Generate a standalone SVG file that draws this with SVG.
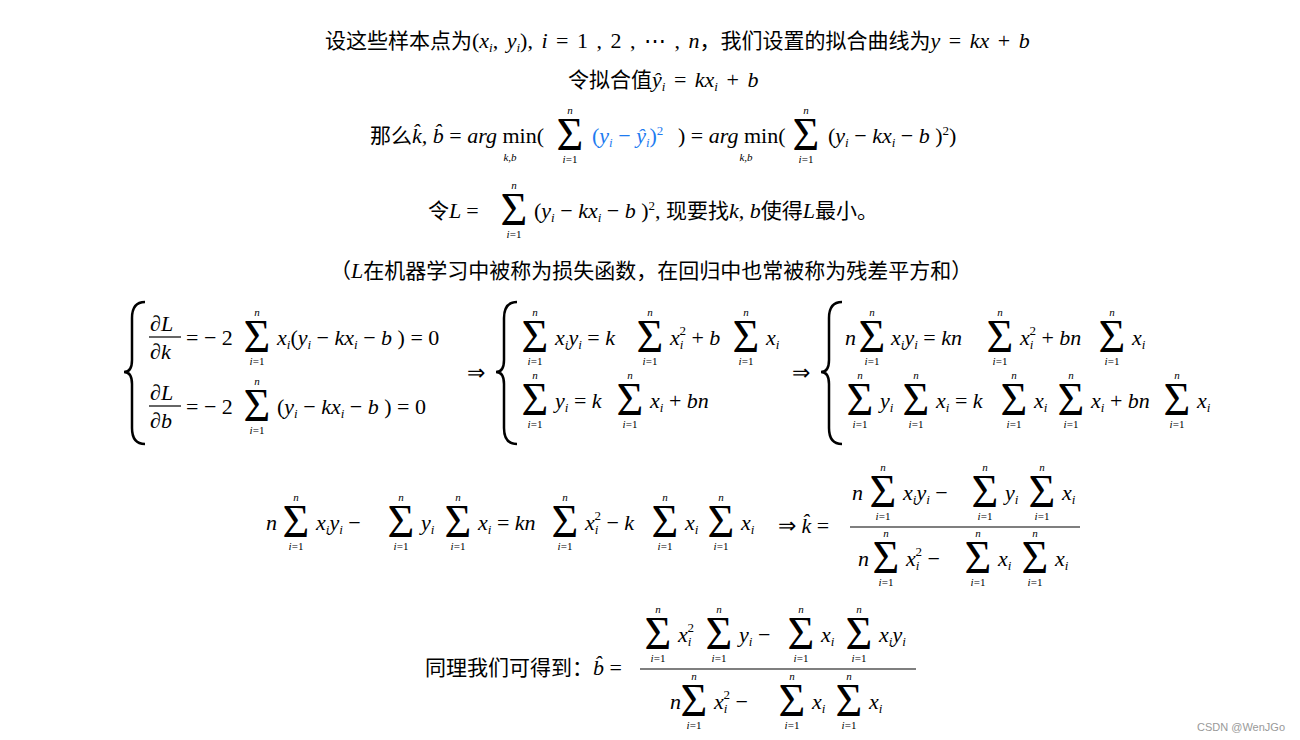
<svg xmlns="http://www.w3.org/2000/svg" width="1300" height="740" viewBox="0 0 1300 740">
<style>
text{fill:#000}
.m{font-family:"Liberation Serif",serif;font-style:italic;font-size:22px}
.u{font-style:normal}
.c{font-family:"Noto Sans CJK SC",sans-serif;font-size:21px;font-style:normal}
.s{font-size:13px}
.lim{font-family:"Liberation Serif",serif;font-style:italic;font-size:11px;text-anchor:middle}
.sig{font-family:"Liberation Serif",serif;font-size:46px;text-anchor:middle}
.blue{fill:#1e7bf0}
.br{fill:none;stroke:#000;stroke-width:2.5}
.fl{stroke:#000;stroke-width:1.2}
</style>
<defs>
<g id="sum"><text class="sig" y="13">Σ</text><text class="lim" y="-23">n</text><text class="lim" y="26">i<tspan class="u">=1</tspan></text></g>
</defs>
<rect width="1300" height="740" fill="#fff"/>

<g id="line1">
<text x="325" y="48" class="m" word-spacing="3"><tspan class="c">设这些样本点为</tspan><tspan class="u">(</tspan>x<tspan class="s" dy="4">i</tspan><tspan dy="-4" class="u">, </tspan>y<tspan class="s" dy="4">i</tspan><tspan dy="-4" class="u">), </tspan> i <tspan class="u">= 1 , 2 , ⋯ , </tspan> n<tspan class="c">，我们设置的拟合曲线为</tspan>y <tspan class="u">=</tspan> kx <tspan class="u">+</tspan> b</text>
</g>
<g id="line2">
<text x="568" y="87" class="m" word-spacing="3"><tspan class="c">令拟合值</tspan>ŷ<tspan class="s" dy="4">i</tspan><tspan dy="-4" class="u">  =  </tspan>kx<tspan class="s" dy="4">i</tspan><tspan dy="-4" class="u"> + </tspan>b</text>
</g>
<g id="line3">
<text x="370" y="143" class="m"><tspan class="c">那么</tspan>k̂, b̂ <tspan class="u">=</tspan> arg <tspan class="u">min(</tspan></text>
<text x="510" y="161" class="lim">k,b</text>
<g style="fill:#1e7bf0"><use href="#sum" x="570" y="137"/></g>
<text x="592" y="143" class="m blue"><tspan class="u">(</tspan>y<tspan class="s" dy="4">i</tspan><tspan dy="-4" class="u"> − </tspan>ŷ<tspan class="s" dy="4">i</tspan><tspan dy="-4" class="u">)</tspan><tspan class="s u" dy="-8">2</tspan></text>
<text x="678" y="143" class="m"><tspan class="u">) =</tspan> arg <tspan class="u">min(</tspan></text>
<text x="746" y="161" class="lim">k,b</text>
<use href="#sum" x="806" y="137"/>
<text x="828" y="143" class="m"><tspan class="u">(</tspan>y<tspan class="s" dy="4">i</tspan><tspan dy="-4" class="u"> − </tspan>kx<tspan class="s" dy="4">i</tspan><tspan dy="-4" class="u"> − </tspan>b<tspan class="u"> )</tspan><tspan class="s u" dy="-8">2</tspan><tspan class="u" dy="8">)</tspan></text>
</g>
<g id="line4">
<text x="428" y="218" class="m"><tspan class="c">令</tspan>L <tspan class="u">=</tspan></text>
<use href="#sum" x="514" y="212"/>
<text x="534" y="218" class="m"><tspan class="u">(</tspan>y<tspan class="s" dy="4">i</tspan><tspan dy="-4" class="u"> − </tspan>kx<tspan class="s" dy="4">i</tspan><tspan dy="-4" class="u"> − </tspan>b<tspan class="u"> )</tspan><tspan class="s u" dy="-8">2</tspan><tspan class="u" dy="8">, </tspan><tspan class="c">现要找</tspan>k, b<tspan class="c">使得</tspan>L<tspan class="c">最小。</tspan></text>
</g>
<g id="line5">
<text x="330" y="278" class="m"><tspan class="c">（</tspan>L<tspan class="c">在机器学习中被称为损失函数，在回归中也常被称为残差平方和）</tspan></text>
</g>

<g id="system1">
<path class="br" d="M145 302 Q132 302 132 318 L132 360 Q132 372 124 372 Q132 372 132 384 L132 428 Q132 444 145 444"/>
<text x="150" y="331" class="m u">∂<tspan class="m">L</tspan></text>
<line class="fl" x1="149" y1="337" x2="181" y2="337"/>
<text x="150" y="359" class="m u">∂<tspan class="m">k</tspan></text>
<text x="186" y="345" class="m u">= − 2</text>
<use href="#sum" x="257" y="339"/>
<text x="277" y="345" class="m">x<tspan class="s" dy="4">i</tspan><tspan dy="-4" class="u">(</tspan>y<tspan class="s" dy="4">i</tspan><tspan dy="-4" class="u"> − </tspan>kx<tspan class="s" dy="4">i</tspan><tspan dy="-4" class="u"> − </tspan>b<tspan class="u"> ) = 0</tspan></text>
<text x="150" y="400" class="m u">∂<tspan class="m">L</tspan></text>
<line class="fl" x1="149" y1="406" x2="181" y2="406"/>
<text x="150" y="428" class="m u">∂<tspan class="m">b</tspan></text>
<text x="186" y="414" class="m u">= − 2</text>
<use href="#sum" x="257" y="408"/>
<text x="277" y="414" class="m"><tspan class="u">(</tspan>y<tspan class="s" dy="4">i</tspan><tspan dy="-4" class="u"> − </tspan>kx<tspan class="s" dy="4">i</tspan><tspan dy="-4" class="u"> − </tspan>b<tspan class="u"> ) = 0</tspan></text>
<text x="467" y="380" class="m u">⇒</text>
</g>

<g id="system2">
<path class="br" d="M517 302 Q504 302 504 318 L504 360 Q504 372 496 372 Q504 372 504 384 L504 428 Q504 444 517 444"/>
<use href="#sum" x="535" y="339"/>
<text x="555" y="345" class="m">x<tspan class="s" dy="4">i</tspan><tspan dy="-4">y</tspan><tspan class="s" dy="4">i</tspan><tspan dy="-4" class="u"> = </tspan>k</text>
<use href="#sum" x="650" y="339"/>
<text x="670" y="345" class="m">x<tspan class="s" dy="4">i</tspan><tspan class="s u" dx="-4" dy="-14">2</tspan><tspan dy="10" class="u"> + </tspan>b</text>
<use href="#sum" x="746" y="339"/>
<text x="766" y="345" class="m">x<tspan class="s" dy="4">i</tspan></text>
<use href="#sum" x="535" y="402"/>
<text x="555" y="408" class="m">y<tspan class="s" dy="4">i</tspan><tspan dy="-4" class="u"> = </tspan>k</text>
<use href="#sum" x="630" y="402"/>
<text x="650" y="408" class="m">x<tspan class="s" dy="4">i</tspan><tspan dy="-4" class="u"> + </tspan>bn</text>
<text x="792" y="380" class="m u">⇒</text>
</g>

<g id="system3">
<path class="br" d="M842 302 Q829 302 829 318 L829 360 Q829 372 821 372 Q829 372 829 384 L829 428 Q829 444 842 444"/>
<text x="845" y="345" class="m">n</text>
<use href="#sum" x="872" y="339"/>
<text x="891" y="345" class="m">x<tspan class="s" dy="4">i</tspan><tspan dy="-4">y</tspan><tspan class="s" dy="4">i</tspan><tspan dy="-4" class="u"> = </tspan>kn</text>
<use href="#sum" x="1000" y="339"/>
<text x="1020" y="345" class="m">x<tspan class="s" dy="4">i</tspan><tspan class="s u" dx="-4" dy="-14">2</tspan><tspan dy="10" class="u"> + </tspan>bn</text>
<use href="#sum" x="1112" y="339"/>
<text x="1132" y="345" class="m">x<tspan class="s" dy="4">i</tspan></text>
<use href="#sum" x="860" y="402"/>
<text x="880" y="408" class="m">y<tspan class="s" dy="4">i</tspan></text>
<use href="#sum" x="916" y="402"/>
<text x="936" y="408" class="m">x<tspan class="s" dy="4">i</tspan><tspan dy="-4" class="u"> = </tspan>k</text>
<use href="#sum" x="1014" y="402"/>
<text x="1034" y="408" class="m">x<tspan class="s" dy="4">i</tspan></text>
<use href="#sum" x="1071" y="402"/>
<text x="1091" y="408" class="m">x<tspan class="s" dy="4">i</tspan><tspan dy="-4" class="u"> + </tspan>bn</text>
<use href="#sum" x="1177" y="402"/>
<text x="1197" y="408" class="m">x<tspan class="s" dy="4">i</tspan></text>
</g>

<g id="khat">
<text x="266" y="530" class="m">n</text>
<use href="#sum" x="296" y="524"/>
<text x="316" y="530" class="m">x<tspan class="s" dy="4">i</tspan><tspan dy="-4">y</tspan><tspan class="s" dy="4">i</tspan><tspan dy="-4" class="u">  − </tspan></text>
<use href="#sum" x="401" y="524"/>
<text x="421" y="530" class="m">y<tspan class="s" dy="4">i</tspan></text>
<use href="#sum" x="458" y="524"/>
<text x="478" y="530" class="m">x<tspan class="s" dy="4">i</tspan><tspan dy="-4" class="u"> = </tspan>kn</text>
<use href="#sum" x="565" y="524"/>
<text x="585" y="530" class="m">x<tspan class="s" dy="4">i</tspan><tspan class="s u" dx="-4" dy="-14">2</tspan><tspan dy="10" class="u"> − </tspan>k</text>
<use href="#sum" x="665" y="524"/>
<text x="685" y="530" class="m">x<tspan class="s" dy="4">i</tspan></text>
<use href="#sum" x="721" y="524"/>
<text x="741" y="530" class="m">x<tspan class="s" dy="4">i</tspan></text>
<text x="778" y="533" class="m"><tspan class="u">⇒ </tspan>k̂ <tspan class="u">=</tspan></text>
<line class="fl" x1="850" y1="527" x2="1080" y2="527"/>
<text x="852" y="500" class="m">n</text>
<use href="#sum" x="883" y="494"/>
<text x="903" y="500" class="m">x<tspan class="s" dy="4">i</tspan><tspan dy="-4">y</tspan><tspan class="s" dy="4">i</tspan><tspan dy="-4" class="u">  − </tspan></text>
<use href="#sum" x="985" y="494"/>
<text x="1005" y="500" class="m">y<tspan class="s" dy="4">i</tspan></text>
<use href="#sum" x="1042" y="494"/>
<text x="1062" y="500" class="m">x<tspan class="s" dy="4">i</tspan></text>
<text x="858" y="566" class="m">n</text>
<use href="#sum" x="886" y="560"/>
<text x="906" y="566" class="m">x<tspan class="s" dy="4">i</tspan><tspan class="s u" dx="-4" dy="-14">2</tspan><tspan dy="10" class="u"> − </tspan></text>
<use href="#sum" x="978" y="560"/>
<text x="998" y="566" class="m">x<tspan class="s" dy="4">i</tspan></text>
<use href="#sum" x="1035" y="560"/>
<text x="1055" y="566" class="m">x<tspan class="s" dy="4">i</tspan></text>
</g>

<g id="bhat">
<text x="425" y="675" class="m"><tspan class="c">同理我们可得到：</tspan>b̂ <tspan class="u">=</tspan></text>
<line class="fl" x1="640" y1="669" x2="916" y2="669"/>
<use href="#sum" x="658" y="636"/>
<text x="678" y="642" class="m">x<tspan class="s" dy="4">i</tspan><tspan class="s u" dx="-4" dy="-14">2</tspan></text>
<use href="#sum" x="719" y="636"/>
<text x="739" y="642" class="m">y<tspan class="s" dy="4">i</tspan><tspan dy="-4" class="u">  − </tspan></text>
<use href="#sum" x="801" y="636"/>
<text x="821" y="642" class="m">x<tspan class="s" dy="4">i</tspan></text>
<use href="#sum" x="859" y="636"/>
<text x="879" y="642" class="m">x<tspan class="s" dy="4">i</tspan><tspan dy="-4">y</tspan><tspan class="s" dy="4">i</tspan></text>
<text x="670" y="709" class="m">n</text>
<use href="#sum" x="694" y="703"/>
<text x="714" y="709" class="m">x<tspan class="s" dy="4">i</tspan><tspan class="s u" dx="-4" dy="-14">2</tspan><tspan dy="10" class="u">  − </tspan></text>
<use href="#sum" x="792" y="703"/>
<text x="812" y="709" class="m">x<tspan class="s" dy="4">i</tspan></text>
<use href="#sum" x="849" y="703"/>
<text x="869" y="709" class="m">x<tspan class="s" dy="4">i</tspan></text>
</g>

<text x="1285" y="731" text-anchor="end" style="font-family:'Liberation Sans',sans-serif;font-size:11px;fill:#999">CSDN @WenJGo</text>
</svg>
